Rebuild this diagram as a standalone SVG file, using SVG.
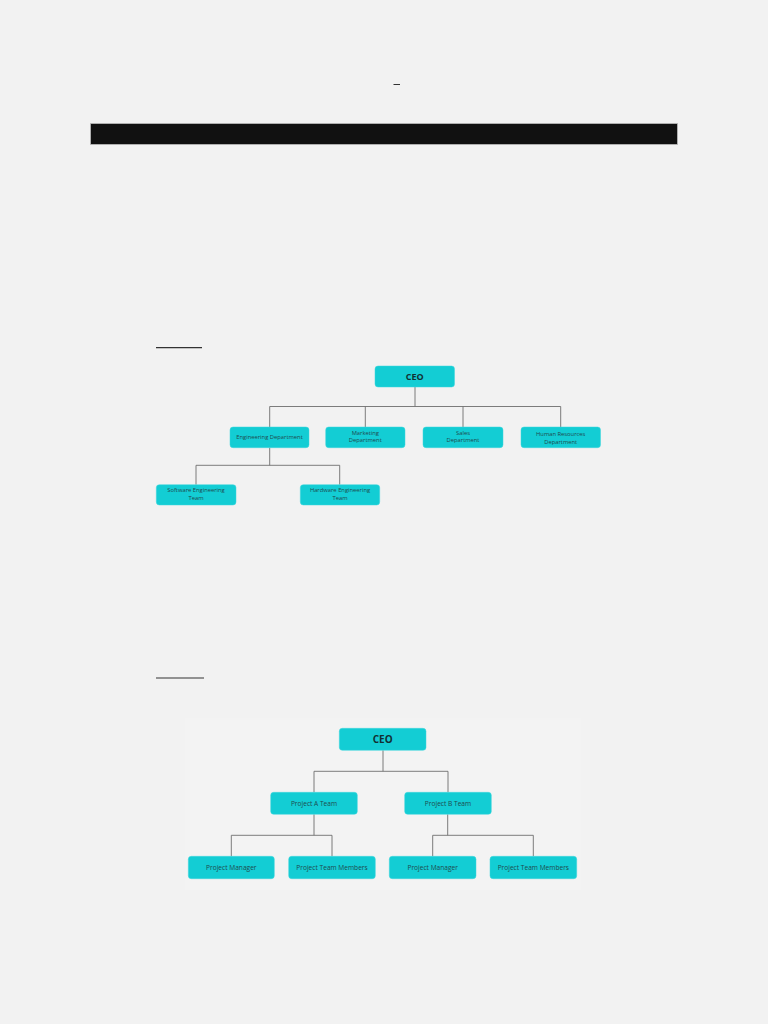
<svg xmlns="http://www.w3.org/2000/svg" width="768" height="1024" viewBox="0 0 768 1024">
<defs>
<style>
.node{fill:#13cdd4;stroke:#3fd6dc;stroke-width:0.5}
.t{font-family:"Open Sans","Noto Sans","Liberation Sans",sans-serif;fill:#1f4a4e;text-anchor:middle}
.s1{font-size:5.8px}
.s2{font-size:6.6px}
.ceo{font-weight:bold;font-size:9px;fill:#123033}
.ceo2{font-weight:bold;font-size:10px;fill:#123033}
.c{fill:none;stroke:#6e6e6e;stroke-width:0.9}
</style>
</defs>
<rect width="768" height="1024" fill="#f2f2f2"/>
<line x1="393.5" y1="84.5" x2="400" y2="84.5" stroke="#333" stroke-width="1"/>
<rect x="90.5" y="123.5" width="587" height="21" fill="#111" stroke="#bbb" stroke-width="0.8"/>
<line x1="156" y1="347.7" x2="202" y2="347.7" stroke="#333" stroke-width="1.2"/>
<line x1="156" y1="678" x2="204" y2="678" stroke="#333" stroke-width="1.2"/>
<rect x="185" y="718" width="396" height="172" fill="#f3f3f3"/>

<g id="connectors">
<path class="c" d="M415,387 V406.5 M269.7,406.5 H560.7 M269.7,406.5 V427 M365.3,406.5 V427 M463,406.5 V427 M560.7,406.5 V427"/>
<path class="c" d="M269.7,447.7 V465.3 M196,465.3 H339.7 M196,465.3 V484.7 M339.7,465.3 V484.7"/>
<path class="c" d="M383,750.3 V771.3 M314,771.3 H448 M314,771.3 V792.3 M448,771.3 V792.3"/>
<path class="c" d="M314,814.3 V835.3 M231.3,835.3 H332 M231.3,835.3 V856.3 M332,835.3 V856.3"/>
<path class="c" d="M447.7,814.3 V835.3 M432.7,835.3 H533.3 M432.7,835.3 V856.3 M533.3,835.3 V856.3"/>
</g>

<g id="d1-ceo"><rect class="node" x="375" y="366" width="79.5" height="21" rx="3"/><text class="t ceo" x="414.7" y="379.5">CEO</text></g>
<g id="d1-eng"><rect class="node" x="230" y="427" width="79" height="20.7" rx="3"/><text class="t s1" x="269.5" y="439.4">Engineering Department</text></g>
<g id="d1-mkt"><rect class="node" x="325.7" y="427" width="79.3" height="20.7" rx="3"/><text class="t s1" x="365.3" y="434.8">Marketing</text><text class="t s1" x="365.3" y="442.3">Department</text></g>
<g id="d1-sales"><rect class="node" x="423" y="427" width="80" height="20.7" rx="3"/><text class="t s1" x="463" y="434.8">Sales</text><text class="t s1" x="463" y="442.3">Department</text></g>
<g id="d1-hr"><rect class="node" x="521" y="427" width="79.5" height="20.7" rx="3"/><text class="t s1" x="560.7" y="435.8">Human Resources</text><text class="t s1" x="560.7" y="443.6">Department</text></g>
<g id="d1-sw"><rect class="node" x="156.3" y="484.7" width="79.7" height="20.3" rx="3"/><text class="t s1" x="196" y="492.2">Software Engineering</text><text class="t s1" x="196" y="499.7">Team</text></g>
<g id="d1-hw"><rect class="node" x="300.3" y="484.7" width="79.4" height="20.3" rx="3"/><text class="t s1" x="340" y="492.2">Hardware Engineering</text><text class="t s1" x="340" y="499.7">Team</text></g>

<g id="d2-ceo"><rect class="node" x="339.3" y="728.3" width="86.7" height="22" rx="3"/><text class="t ceo2" x="382.7" y="743">CEO</text></g>
<g id="d2-a"><rect class="node" x="270.7" y="792.3" width="86.6" height="22" rx="3"/><text class="t s2" x="314" y="805.8">Project A Team</text></g>
<g id="d2-b"><rect class="node" x="404.7" y="792.3" width="86.6" height="22" rx="3"/><text class="t s2" x="448" y="805.8">Project B Team</text></g>
<g id="d2-pm1"><rect class="node" x="188.3" y="856.3" width="86" height="22.4" rx="3"/><text class="t s2" x="231.3" y="870">Project Manager</text></g>
<g id="d2-ptm1"><rect class="node" x="288.7" y="856.3" width="86.6" height="22.4" rx="3"/><text class="t s2" x="332" y="870">Project Team Members</text></g>
<g id="d2-pm2"><rect class="node" x="389.3" y="856.3" width="86.7" height="22.4" rx="3"/><text class="t s2" x="432.7" y="870">Project Manager</text></g>
<g id="d2-ptm2"><rect class="node" x="490" y="856.3" width="86.7" height="22.4" rx="3"/><text class="t s2" x="533.3" y="870">Project Team Members</text></g>
</svg>
